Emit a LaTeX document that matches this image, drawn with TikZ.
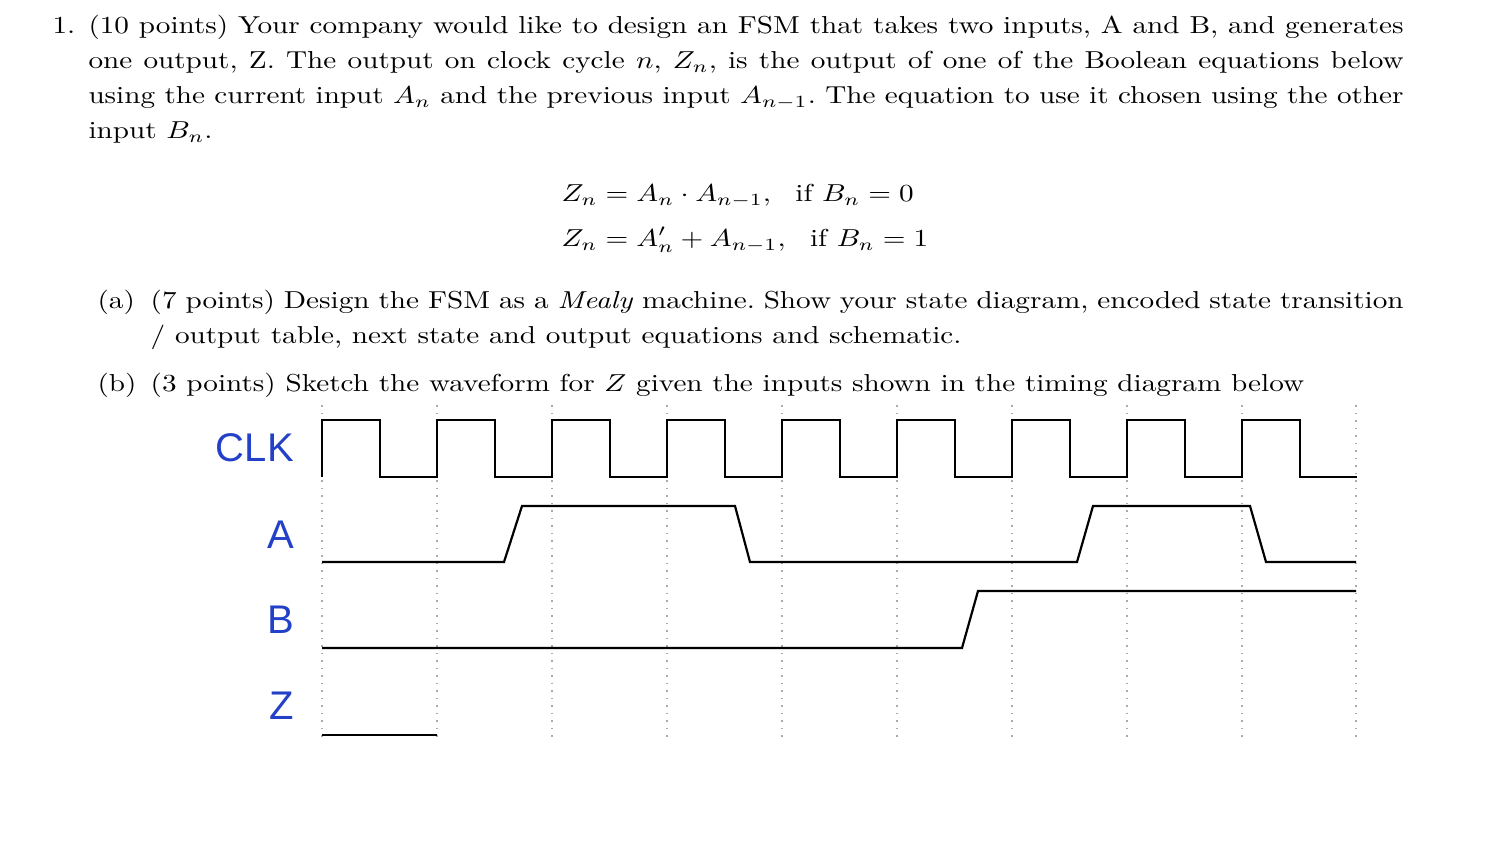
\documentclass[tikz,border=0pt]{standalone}
\usepackage{amsmath}
\usepackage{fontspec}
\newfontfamily\lblfont{Liberation Sans}
\definecolor{lblblue}{RGB}{35,65,200}
\definecolor{dotgray}{RGB}{170,170,170}
\begin{document}
\frenchspacing
\begin{tikzpicture}[x=1pt,y=-1pt,
  wave/.style={line width=2.2pt,black},
  grid/.style={dotgray,line width=1.2pt,dash pattern=on 1.5pt off 6pt},
  txt/.style={anchor=north west,inner sep=0,xscale=2.92,yscale=2.45,align=justify},
  lbl/.style={font=\lblfont\fontsize{40}{40}\selectfont,text=lblblue,anchor=east,inner sep=0}]
\useasboundingbox (0,0) rectangle (1504,856);
\node[txt,text width=462.7pt] (p1) at (52,15)
 {\frenchspacing\fontsize{10}{14.3}\selectfont\hangindent=12.3pt\hangafter=1 \makebox[12.3pt][l]{1.}(10 points) Your company would like to design an FSM that takes two inputs, A and B, and generates\linebreak
 one output, Z. The output on clock cycle $n$, $Z_n$, is the output of one of the Boolean equations below\linebreak
 using the current input $A_n$ and the previous input $A_{n-1}$. The equation to use it chosen using the other\linebreak
 input $B_n$.\par};
\node[inner sep=0,xscale=2.92,yscale=2.45] (eq) at (745,217) {\fontsize{10}{14.3}\selectfont
 $\begin{aligned} Z_n &= A_n\cdot A_{n-1},\ \ \text{if } B_n=0\\[1pt] Z_n &= A_n'+A_{n-1},\ \ \text{if } B_n=1\end{aligned}$};
\node[txt,text width=447.3pt] (pa) at (97,290)
 {\frenchspacing\fontsize{10}{14.3}\selectfont\hangindent=18.2pt\hangafter=1 \makebox[18.2pt][l]{(a)}(7 points) Design the FSM as a \emph{Mealy} machine. Show your state diagram, encoded state transition\linebreak
 / output table, next state and output equations and schematic.\par};
\node[txt,align=left] (pb) at (97,373)
 {\fontsize{10}{14.3}\selectfont\makebox[18.2pt][l]{(b)}(3 points) Sketch the waveform for $Z$ given the inputs shown in the timing diagram below};
% grid
\foreach \x in {322,437,552,667,782,897,1012,1127,1242,1356}
  \draw[grid] (\x,405) -- (\x,742);
% labels
\node[lbl] (lclk) at (294,448) {CLK};
\node[lbl] (la) at (294,535) {A};
\node[lbl] (lb) at (294,620) {B};
\node[lbl] (lz) at (294,706) {Z};
% clock
\draw[wave] (322,477) -- (322,420)
 \foreach \i in {0,...,8} { -- ({322+115*\i},420) -- ({380+115*\i},420) -- ({380+115*\i},477) -- ({437+115*\i},477) };
% A
\draw[wave] (322,562) -- (504,562) -- (522,506) -- (735,506) -- (750,562) -- (1077,562) -- (1093,506) -- (1250,506) -- (1266,562) -- (1356,562);
% B
\draw[wave] (322,648) -- (962,648) -- (978,591) -- (1356,591);
% Z
\draw[wave] (322,735) -- (437,735);
\end{tikzpicture}
\end{document}
